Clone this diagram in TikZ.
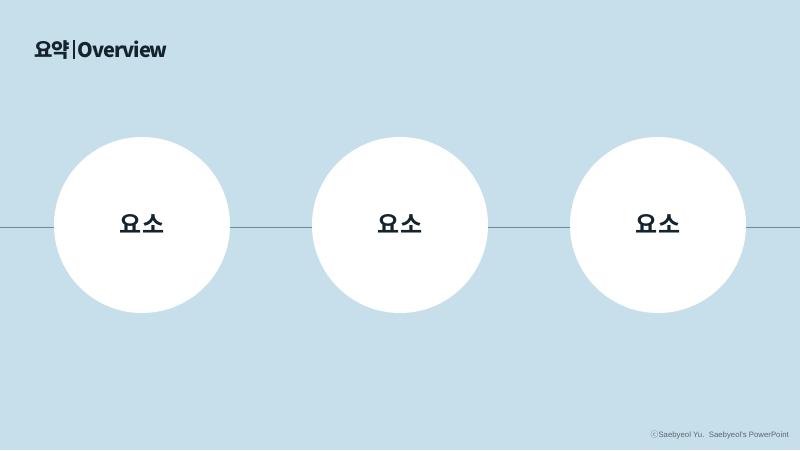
\documentclass[tikz,border=0pt]{standalone}
\usepackage{fontspec}
\newfontfamily\kr{Noto Sans CJK KR}[BoldFont={Noto Sans CJK KR Bold}]
\newfontfamily\krtitle{Noto Sans CJK KR Black}[LetterSpace=-5]
\newfontfamily\footfont{Liberation Sans}
\definecolor{bg}{HTML}{C7DFEA}
\definecolor{linec}{HTML}{6F8A99}
\definecolor{ink}{HTML}{14232E}
\definecolor{footc}{HTML}{5A6770}
\begin{document}
\begin{tikzpicture}[x=1pt,y=-1pt,
  elem/.style={circle,fill=white,minimum size=176pt,inner sep=0pt},
  elemtext/.style={text=ink,font=\kr\bfseries\fontsize{24}{28}\selectfont,inner sep=0pt},
  link/.style={draw=linec,line width=1pt}]
\fill[bg] (0,0) rectangle (800,450);
\useasboundingbox (0,0) rectangle (800,450);
\coordinate (L) at (0,227);
\coordinate (R) at (800,227);
\draw[link] (L) -- (R);
\node[elem] (e1) at (142,225) {};
\node[elem] (e2) at (400,225) {};
\node[elem] (e3) at (658,225) {};
\foreach \n in {e1,e2,e3}
  \node[elemtext] (\n t) at ([yshift=1.5pt]\n.center) {요소};
\node[anchor=base west,inner sep=0pt,text=ink,font=\krtitle\fontsize{20}{24}\selectfont] (title) at (34,57) {요약\kern2.5pt\raisebox{-2pt}{\rule{2.6pt}{19pt}}\kern2.5pt Overview};
\node[anchor=base east,inner sep=0pt,text=footc,font=\footfont\fontsize{7.8}{9}\selectfont] (foot) at (789,437) {{\kr ⓒ}Saebyeol Yu.\ \ Saebyeol's PowerPoint};
\end{tikzpicture}
\end{document}
